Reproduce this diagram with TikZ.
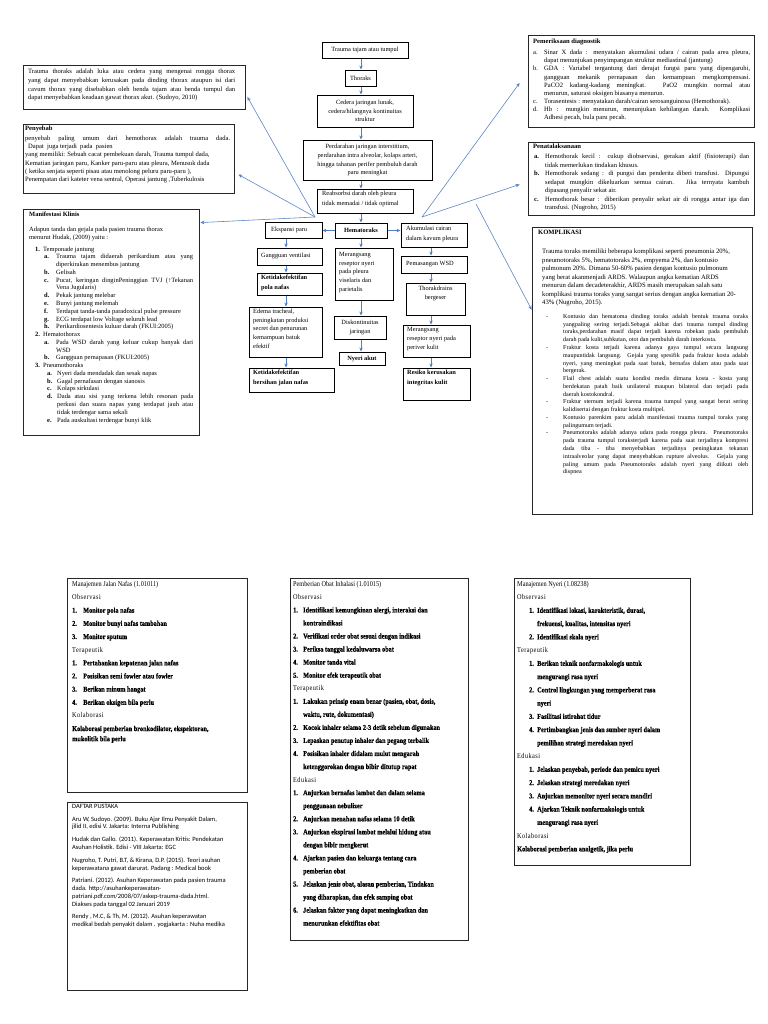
\documentclass[tikz,border=0pt]{standalone}
\usepackage{fontspec}
\setmainfont{Liberation Serif}
\newfontfamily\calib{Carlito}
\newfontfamily\condf{Liberation Serif}[FakeStretch=0.85, BoldFeatures={FakeBold=0.5}]
\usetikzlibrary{fit,arrows.meta}
\definecolor{arr}{RGB}{84,126,196}
\newcommand\jl[2]{\makebox[#1bp][s]{#2}}
\newcommand\mnum[1]{\hspace*{6bp}\makebox[8bp][l]{\textbf{#1}}}
\newcommand\msub[1]{\hspace*{15bp}\makebox[12bp][l]{\textbf{#1}}}
\newcommand\msubb[1]{\hspace*{18bp}\makebox[10bp][l]{\textbf{#1}}}
\newcommand\mcont{\hspace*{27bp}}
\newcommand\nb[1]{\makebox[11bp][l]{#1}}
\newcommand\nc[1]{\makebox[10bp][l]{#1}}
\newcommand\nd[1]{\hspace*{12bp}\makebox[8bp][l]{#1}}
\newcommand\hd[1]{{\addfontfeature{LetterSpace=6}#1}}
\tikzset{
  bx/.style={draw=black!85, line width=0.8bp, inner sep=0pt},
  fb/.style={draw=black, line width=1bp, inner sep=0pt},
  tx/.style={inner sep=0pt, anchor=north west, align=left, font=\fontsize{6.6}{8}\selectfont},
  ft/.style={inner sep=0pt, align=center, font=\fontsize{6.4}{9}\selectfont},
  ftl/.style={inner sep=0pt, anchor=north west, align=left, font=\fontsize{6.4}{9}\selectfont},
  ar/.style={draw=arr, line width=0.55bp, -{Stealth[length=4bp,width=3.4bp]}},
  bt/.style={inner sep=0pt, anchor=north west, align=left, font=\condf\fontsize{7.4}{13.2}\selectfont},
}
\begin{document}
\begin{tikzpicture}[x=1bp,y=-1bp]
\fill[white] (0,0) rectangle (768,1024);
\useasboundingbox (0,0) rectangle (768,1024);

% ---------------- flowchart ----------------
\node[fb, fit={(322,42)(408,58)}] (trauma) {};
\node[ft] at (trauma) {Trauma tajam atau tumpul};
\node[fb, fit={(345,70)(376,86)}] (thoraks) {};
\node[ft] at (thoraks) {Thoraks};
\node[fb, fit={(317,95)(413,127)}] (cedera) {};
\node[ft, font=\fontsize{6.4}{8.3}\selectfont] at (cedera) {Cedera jaringan lunak,\\cedera/hilangnya kontinuitas\\struktur};
\node[fb, fit={(303,140)(432,180)}] (perd) {};
\node[ft] at (perd) {Perdarahan jaringan interstitium,\\perdarahan intra alveolar, kolaps arteri,\\hingga tahanan perifer pembuluh darah\\paru meningkat};
\node[fb, fit={(317,189)(413,213)}] (reab) {};
\node[ftl, font=\fontsize{6.4}{9.5}\selectfont] at (322,191) {Reabsorbsi darah oleh pleura\\tidak memadai / tidak optimal};
\node[fb, fit={(335,223)(387,238)}] (hema) {};
\node[ft] at (hema) {\textbf{Hematoraks}};
\node[fb, fit={(265,222)(322,238)}] (eksp) {};
\node[ftl] at (271,227) {Ekspansi paru};
\node[fb, fit={(401,223)(467,247)}] (akum) {};
\node[ftl, font=\fontsize{6.4}{10}\selectfont] at (406,226) {Akumulasi cairan\\dalam kavum pleura};

\node[fb, fit={(257,248)(322,265)}] (gang) {};
\node[ftl] at (261,253) {Gangguan ventilasi};
\node[fb, fit={(257,273)(322,295)}] (kpn) {};
\node[ftl, font=\bfseries\fontsize{6.4}{9.5}\selectfont] at (261,275) {Ketidakefektifan\\pola nafas};
\node[fb, fit={(249,307)(322,357)}] (edema) {};
\node[ftl, font=\fontsize{6.4}{8.7}\selectfont] at (253,309) {Edema tracheal,\\peningkatan produksi\\secret dan penurunan\\kemampuan batuk\\efektif};
\node[fb, fit={(249,368)(334,392)}] (kbj) {};
\node[ftl, font=\bfseries\fontsize{6.4}{9.5}\selectfont] at (253,370) {Ketidakefektifan\\bersihan jalan nafas};

\node[fb, fit={(335,248)(393,300)}] (mer) {};
\node[ftl, font=\fontsize{6.4}{8.8}\selectfont] at (339,252) {Merangsang\\reseptor nyeri\\pada pleura\\viselaris dan\\parietalis};
\node[fb, fit={(334,316)(386,339)}] (disk) {};
\node[ft] at (disk) {Diskontinuitas\\jaringan};
\node[fb, fit={(339,352)(385,365)}] (nyeri) {};
\node[ft] at (nyeri) {\textbf{Nyeri akut}};

\node[fb, fit={(401,256)(467,273)}] (wsd) {};
\node[ftl] at (406,261) {Pemasangan WSD};
\node[fb, fit={(406,283)(465,315)}] (thd) {};
\node[ft, anchor=north] at (435.5,286) {Thorakdrains\\bergeser};
\node[fb, fit={(403,325)(470,357)}] (mrk) {};
\node[ftl] at (407,327) {Merangsang\\reseptor nyeri pada\\periver kulit};
\node[fb, fit={(403,368)(470,400)}] (res) {};
\node[ftl, font=\bfseries\fontsize{6.4}{9.5}\selectfont] at (407,370) {Resiko kerusakan\\integritas kulit};

% flowchart arrows
\draw[ar] (361,0 |- trauma.south) -- (361,0 |- thoraks.north);
\draw[ar] (361,0 |- thoraks.south) -- (361,0 |- cedera.north);
\draw[ar] (361,0 |- cedera.south) -- (361,0 |- perd.north);
\draw[ar] (361,0 |- perd.south) -- (361,0 |- reab.north);
\draw[ar] (361,0 |- reab.south) -- (361,0 |- hema.north);
\draw[ar] (hema.west) -- (eksp.east |- hema.west);
\draw[ar] (hema.east) -- (akum.west |- hema.east);
\draw[ar] (361,0 |- hema.south) -- (361,0 |- mer.north);
\draw[ar] (361,0 |- mer.south) -- (361,0 |- disk.north);
\draw[ar] (361,0 |- disk.south) -- (361,0 |- nyeri.north);
\draw[ar] (286,0 |- eksp.south) -- (286,0 |- gang.north);
\draw[ar] (286,0 |- gang.south) -- (286,0 |- kpn.north);
\draw[ar] (286,0 |- kpn.south) -- (286,0 |- edema.north);
\draw[ar] (286,0 |- edema.south) -- (286,0 |- kbj.north);
\draw[ar] (431,0 |- akum.south) -- (431,0 |- wsd.north);
\draw[ar] (431,0 |- wsd.south) -- (431,0 |- thd.north);
\draw[ar] (431,0 |- thd.south) -- (431,0 |- mrk.north);
\draw[ar] (431,0 |- mrk.south) -- (431,0 |- res.north);

% ---------------- left text boxes ----------------
\node[bx, fit={(23,65)(245,109)}] (def) {};
\node[tx, font=\fontsize{6.6}{8.7}\selectfont] at (28,69) {\jl{207}{Trauma thoraks adalah luka atau cedera yang mengenai rongga thorax}\\
\jl{207}{yang dapat menyebabkan kerusakan pada dinding thorax ataupun isi dari}\\
\jl{207}{cavum thorax yang disebabkan oleh benda tajam atau benda tumpul dan}\\
dapat menyebabkan keadaan gawat thorax akut. (Sudoyo, 2010)};

\node[bx, fit={(23,124)(234,193)}] (pen) {};
\node[tx, font=\fontsize{6.6}{8.2}\selectfont] at (25,126) {\textbf{Penyebab}\\[1.6bp]
\jl{205}{penyebab paling umum dari hemothorax adalah trauma dada.}\\
\hspace*{3bp}Dapat\ \ juga terjadi\ \ pada\ \ pasien\\
yang memiliki: Sebuah cacat pembekuan darah, Trauma tumpul dada,\\
Kematian jaringan paru, Kanker paru-paru atau pleura, Menusuk dada\\
( ketika senjata seperti pisau atau menolong peluru paru-paru ),\\
Penempatan dari kateter vena sentral, Operasi jantung ,Tuberkulosis};

\node[bx, fit={(23,209)(199,435)}] (man) {};
\node[tx, font=\fontsize{6.5}{7.8}\selectfont] at (29,212) {\textbf{Manifestasi Klinis}\\[7bp]
Adapun tanda dan gejala pada pasien trauma thorax\\
menurut Hudak, (2009) yaitu :\\[4bp]
\mnum{1.}Temponade jantung\\
\msub{a.}\jl{137}{Trauma tajam didaerah perikardium atau yang}\\
\mcont diperkirakan menembus jantung\\
\msub{b.}Gelisah\\
\msub{c.}\jl{137}{Pucat, keringan dinginPeninggian TVJ (↑Tekanan}\\
\mcont Vena Jugularis)\\
\msub{d.}Pekak jantung melebar\\
\msub{e.}Bunyi jantung melemah\\
\msub{f.}Terdapat tanda-tanda paradoxical pulse pressure\\
\msub{g.}ECG terdapat low Voltage seluruh lead\\
\msub{h.}Perikardiosentesis kuluar darah (FKUI:2005)\\
\mnum{2.}Hematothorax\\
\msub{a.}\jl{137}{Pada WSD darah yang keluar cukup banyak dari}\\
\mcont WSD\\
\msub{b.}Gangguan pernapasan (FKUI:2005)\\
\mnum{3.}Pneumothoraks\\
\msubb{a.}Nyeri dada mendadak dan sesak napas\\
\msubb{b.}Gagal pernafasan dengan sianosis\\
\msubb{c.}Kolaps sirkulasi\\
\msubb{d.}\jl{136}{Dada atau sisi yang terkena lebih resonan pada}\\
\hspace*{28bp}\jl{136}{perkusi dan suara napas yang terdapat jauh atau}\\
\hspace*{28bp}tidak terdengar sama sekali\\
\msubb{e.}Pada auskultasi terdengar bunyi klik};

% ---------------- right text boxes ----------------
\node[bx, fit={(528,35)(754,127)}] (pem) {};
\node[tx, font=\fontsize{6.6}{8.1}\selectfont] at (533,39) {\textbf{Pemeriksaan diagnostik}\\[3bp]
\makebox[11bp][l]{a.}\jl{206}{Sinar X dada : menyatakan akumulasi udara / cairan pada area pleura,}\\
\hspace*{11bp}dapat menunjukan penyimpangan struktur mediastinal (jantung)\\
\makebox[11bp][l]{b.}\jl{206}{GDA : Variabel tergantung dari derajat fungsi paru yang dipengaruhi,}\\
\hspace*{11bp}\jl{206}{gangguan mekanik pernapasan dan kemampuan mengkompensasi.}\\
\hspace*{11bp}\jl{206}{PaCO2 kadang-kadang meningkat. PaO2 mungkin normal atau}\\
\hspace*{11bp}menurun, saturasi oksigen biasanya menurun.\\
\makebox[11bp][l]{c.}Torasentesis : menyatakan darah/cairan serosanguinosa (Hemothorak).\\
\makebox[11bp][l]{d.}\jl{206}{Hb : mungkin menurun, menunjukan kehilangan darah. Komplikasi}\\
\hspace*{11bp}Adhesi pecah, bula paru pecah.};

\node[bx, fit={(528,142)(754,215)}] (pnt) {};
\node[tx, font=\fontsize{6.6}{8.5}\selectfont] at (533,144) {\textbf{Penatalaksanaan}\\[1.5bp]
\hspace*{1bp}\makebox[11bp][l]{\textbf{a.}}\jl{204}{Hemothorak kecil : cukup diobservasi, gerakan aktif (fisioterapi) dan}\\
\hspace*{12bp}tidak memerlukan tindakan khusus.\\
\hspace*{1bp}\makebox[11bp][l]{\textbf{b.}}\jl{204}{Hemothorak sedang : di pungsi dan penderita diberi transfusi. Dipungsi}\\
\hspace*{12bp}\jl{204}{sedapat mungkin dikeluarkan semua cairan. Jika ternyata kambuh}\\
\hspace*{12bp}dipasang penyalir sekat air.\\
\hspace*{1bp}\makebox[11bp][l]{\textbf{c.}}\jl{204}{Hemothorak besar : diberikan penyalir sekat air di rongga antar iga dan}\\
\hspace*{12bp}transfusi. (Nugroho, 2015)};

\node[bx, fit={(532,227)(752,514)}] (kom) {};
\node[tx] at (538,230) {\textbf{KOMPLIKASI}};
\node[tx, font=\fontsize{6.7}{8.5}\selectfont] at (542,249) {Trauma toraks memiliki beberapa komplikasi seperti pneumonia 20\%,\\
pneumotoraks 5\%, hematotoraks 2\%, empyema 2\%, dan kontusio\\
pulmonum 20\%. Dimana 50-60\% pasien dengan kontusio pulmonum\\
yang berat akanmenjadi ARDS. Walaupun angka kematian ARDS\\
menurun dalam decadeterakhir, ARDS masih merupakan salah satu\\
komplikasi trauma toraks yang sangat serius dengan angka kematian 20-\\
43\% (Nugroho, 2015).};
\node[tx, font=\fontsize{6.1}{7.8}\selectfont] at (546,314) {\makebox[17bp][l]{-}\jl{185}{Kontusio dan hematoma dinding toraks adalah bentuk trauma toraks}\\
\hspace*{17bp}\jl{185}{yangpaling sering terjadi.Sebagai akibat dari trauma tumpul dinding}\\
\hspace*{17bp}\jl{185}{toraks,perdarahan masif dapat terjadi karena robekan pada pembuluh}\\
\hspace*{17bp}darah pada kulit,subkutan, otot dan pembuluh darah interkosta.\\
\makebox[17bp][l]{-}\jl{185}{Fraktur kosta terjadi karena adanya gaya tumpul secara langsung}\\
\hspace*{17bp}\jl{185}{maupuntidak langsung. Gejala yang spesifik pada fraktur kosta adalah}\\
\hspace*{17bp}\jl{185}{nyeri, yang meningkat pada saat batuk, bernafas dalam atau pada saat}\\
\hspace*{17bp}bergerak.\\
\makebox[17bp][l]{-}\jl{185}{Flail chest adalah suatu kondisi medis dimana kosta - kosta yang}\\
\hspace*{17bp}\jl{185}{berdekatan patah baik unilateral maupun bilateral dan terjadi pada}\\
\hspace*{17bp}daerah kostokondral.\\
\makebox[17bp][l]{-}\jl{185}{Fraktur sternum terjadi karena trauma tumpul yang sangat berat sering}\\
\hspace*{17bp}kalidisertai dengan fraktur kosta multipel.\\
\makebox[17bp][l]{-}\jl{185}{Kontusio parenkim paru adalah manifestasi trauma tumpul toraks yang}\\
\hspace*{17bp}palingumum terjadi.\\
\makebox[17bp][l]{-}\jl{185}{Pneumotoraks adalah adanya udara pada rongga pleura. Pneumotoraks}\\
\hspace*{17bp}\jl{185}{pada trauma tumpul toraksterjadi karena pada saat terjadinya kompresi}\\
\hspace*{17bp}\jl{185}{dada tiba - tiba menyebabkan terjadinya peningkatan tekanan}\\
\hspace*{17bp}\jl{185}{intraalveolar yang dapat menyebabkan rupture alveolus. Gejala yang}\\
\hspace*{17bp}\jl{185}{paling umum pada Pneumotoraks adalah nyeri yang diikuti oleh}\\
\hspace*{17bp}dispnea};

% hub connectors
\coordinate (h1) at (315,217);
\coordinate (h2) at (422,217);
\coordinate (h3) at (476,204);
\draw[ar] (h1) -- ([shift={(2,10)}]def.east);
\draw[ar] (h1) -- ([shift={(4,16)}]pen.east);
\draw[ar] (h1) -- ([shift={(1,14)}]man.north east);
\draw[ar] (h2) -- ([shift={(-8,2)}]pem.west);
\draw[ar] (h2) -- ([shift={(-8,6)}]pnt.west);
\draw[ar] (h3) -- ([shift={(0,83)}]kom.north west);

% ---------------- bottom boxes ----------------
\node[bx, fit={(67,578)(247,792)}] (mjn) {};
\node[bt] at (72,581) {Manajemen Jalan Nafas (1.01011)\\
\hd{Observasi}\\
\textbf{\nb{1.}Monitor pola nafas}\\
\textbf{\nb{2.}Monitor bunyi nafas tambahan}\\
\textbf{\nb{3.}Monitor sputum}\\
\hd{Terapeutik}\\
\textbf{\nb{1.}Pertahankan kepatenan jalan nafas}\\
\textbf{\nb{2.}Posisikan semi fowler atau fowler}\\
\textbf{\nb{3.}Berikan minum hangat}\\
\textbf{\nb{4.}Berikan oksigen bila perlu}\\
\hd{Kolaborasi}\\
\textbf{Kolaborasi pemberian bronkodilator, ekspektoran,}\\[-3bp]
\textbf{mukolitik bila perlu}};

\node[bx, fit={(67,802)(247,990)}] (dp) {};
\node[tx, font=\calib\fontsize{6.5}{7.8}\selectfont] at (72,804) {DAFTAR PUSTAKA\\[5bp]
Aru W, Sudoyo. (2009). Buku Ajar Ilmu Penyakit Dalam,\\
jilid II, edisi V. Jakarta: Interna Publishing\\[5bp]
Hudak dan Gallo. (2011). Keperawatan Kritis: Pendekatan\\
Asuhan Holistik. Edisi - VIII Jakarta: EGC\\[5bp]
Nugroho, T. Putri, B.T, \& Kirana, D.P. (2015). Teori asuhan\\
keperawatana gawat darurat. Padang : Medical book\\[5bp]
Patriani. (2012). Asuhan Keperawatan pada pasien trauma\\
dada. http://asuhankeperawatan-\\
patriani.pdf.com/2008/07/askep-trauma-dada.html.\\
Diakses pada tanggal 02 Januari 2019\\[5bp]
Rendy , M.C, \& Th, M. (2012). Asuhan keperawatan\\
medikal bedah penyakit dalam . yogjakarta : Nuha medika};

\node[bx, fit={(290,578)(468,940)}] (poi) {};
\node[bt, font=\condf\fontsize{7.4}{13.1}\selectfont] at (293,581) {Pemberian Obat Inhalasi (1.01015)\\
\hd{Observasi}\\
\textbf{\nc{1.}Identifikasi kemungkinan alergi, interaksi dan}\\
\textbf{\hspace*{10bp}kontraindikasi}\\
\textbf{\nc{2.}Verifikasi order obat sesuai dengan indikasi}\\
\textbf{\nc{3.}Periksa tanggal kedaluwarsa obat}\\
\textbf{\nc{4.}Monitor tanda vital}\\
\textbf{\nc{5.}Monitor efek terapeutik obat}\\
\hd{Terapeutik}\\
\textbf{\nc{1.}Lakukan prinsip enam benar (pasien, obat, dosis,}\\
\textbf{\hspace*{10bp}waktu, rute, dokumentasi)}\\
\textbf{\nc{2.}Kocok inhaler selama 2-3 detik sebelum digunakan}\\
\textbf{\nc{3.}Lepaskan penutup inhaler dan pegang terbalik}\\
\textbf{\nc{4.}Posisikan inhaler didalam mulut mengarah}\\
\textbf{\hspace*{10bp}ketenggorokan dengan bibir ditutup rapat}\\
\hd{Edukasi}\\
\textbf{\nc{1.}Anjurkan bernafas lambat dan dalam selama}\\
\textbf{\hspace*{10bp}penggunaan nebulizer}\\
\textbf{\nc{2.}Anjurkan menahan nafas selama 10 detik}\\
\textbf{\nc{3.}Anjurkan ekspirasi lambat melalui hidung atau}\\
\textbf{\hspace*{10bp}dengan bibir mengkerut}\\
\textbf{\nc{4.}Ajarkan pasien dan keluarga tentang cara}\\
\textbf{\hspace*{10bp}pemberian obat}\\
\textbf{\nc{5.}Jelaskan jenis obat, alasan pemberian, Tindakan}\\
\textbf{\hspace*{10bp}yang diharapkan, dan efek samping obat}\\
\textbf{\nc{6.}Jelaskan faktor yang dapat meningkatkan dan}\\
\textbf{\hspace*{10bp}menurunkan efektifitas obat}};

\node[bx, fit={(514,578)(690,865)}] (mny) {};
\node[bt, font=\condf\fontsize{7.4}{13.3}\selectfont] at (517,581) {Manajemen Nyeri (1.08238)\\
\hd{Observasi}\\
\textbf{\nd{1.}Identifikasi lokasi, karakteristik, durasi,}\\
\textbf{\hspace*{20bp}frekuensi, kualitas, intensitas nyeri}\\
\textbf{\nd{2.}Identifikasi skala nyeri}\\
\hd{Terapeutik}\\
\textbf{\nd{1.}Berikan teknik nonfarmakologis untuk}\\
\textbf{\hspace*{20bp}mengurangi rasa nyeri}\\
\textbf{\nd{2.}Control lingkungan yang memperberat rasa}\\
\textbf{\hspace*{20bp}nyeri}\\
\textbf{\nd{3.}Fasilitasi istirahat tidur}\\
\textbf{\nd{4.}Pertimbangkan jenis dan sumber nyeri dalam}\\
\textbf{\hspace*{20bp}pemilihan strategi meredakan nyeri}\\
\hd{Edukasi}\\
\textbf{\nd{1.}Jelaskan penyebab, periode dan pemicu nyeri}\\
\textbf{\nd{2.}Jelaskan strategi meredakan nyeri}\\
\textbf{\nd{3.}Anjurkan memonitor nyeri secara mandiri}\\
\textbf{\nd{4.}Ajarkan Teknik nonfarmakologis untuk}\\
\textbf{\hspace*{20bp}mengurangi rasa nyeri}\\
\hd{Kolaborasi}\\
\textbf{Kolaborasi pemberian analgetik, jika perlu}};
\end{tikzpicture}
\end{document}
